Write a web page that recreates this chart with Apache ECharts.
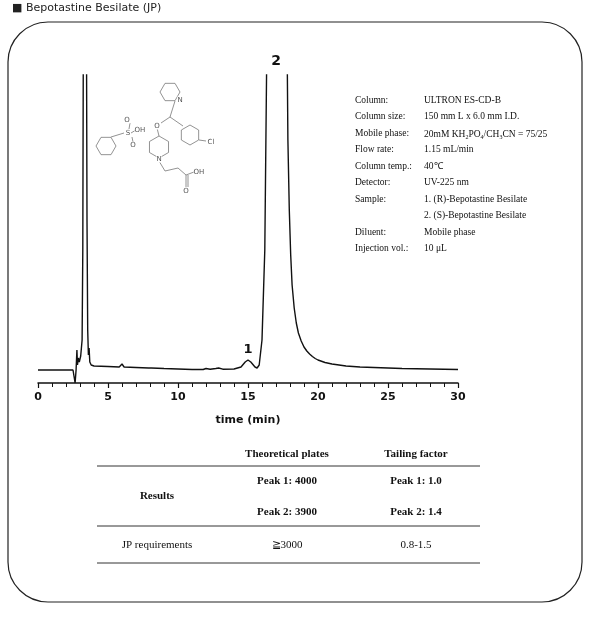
<!DOCTYPE html>
<html><head><meta charset="utf-8">
<script src="https://cdn.jsdelivr.net/npm/echarts@6/dist/echarts.min.js"></script>
<style>html,body{margin:0;padding:0;background:#fff}#c{width:590px;height:618px}</style>
</head><body><div id="c"></div>
<script>
const times = [0,2.5,2.6,2.65,2.7,2.72,2.78,2.82,2.88,2.95,3.05,3.15,3.2,3.25,3.45,3.5,3.55,3.6,3.65,3.7,3.8,4,5,5.8,6,6.15,7,7.9,8,8.1,9,10,11,11.8,12,12.3,12.7,12.9,13.2,14,14.5,14.8,15,15.2,15.5,15.65,15.8,16,16.2,16.4,17.75,17.85,17.95,18.05,18.15,18.3,18.45,18.6,18.8,19.0,19.2,19.4,19.6,19.8,20,20.5,21,22,23,24,25,26,28,30];
const signal = [0,0,0.5,-13,-13,0,20,5,12,8,14,30,120,400,400,150,40,15,22,8,5,4,3.5,3,6,3,2.5,2,3.5,2,1.5,1,0.5,0.5,1.5,0.8,1.5,2,0.8,1,3,8,10,8,3,2,5,30,120,400,400,230,160,115,85,62,47,37,29,23,19,16,13.5,11.5,10,7.5,6,4,3,2.5,2,1.5,1,0.5];
const xTicks = [0,5,10,15,20,25,30];
const conditionLabels = ['Column:','Column size:','Mobile phase:','Flow rate:','Column temp.:','Detector:','Sample:','','Diluent:','Injection vol.:'];
const conditionValues = ['ULTRON ES-CD-B','150 mm L x 6.0 mm I.D.','20mM KH{s|2}PO{s|4}/CH{s|3}CN = 75/25','1.15 mL/min','40℃','UV-225 nm','1. (R)-Bepotastine Besilate','2. (S)-Bepotastine Besilate','Mobile phase','10 μL'];
const tableHeader = ['Theoretical plates','Tailing factor'];
const plates = ['Peak 1: 4000','Peak 2: 3900'];
const tailing = ['Peak 1: 1.0','Peak 2: 1.4'];
const jpReq = ['JP requirements','≧3000','0.8-1.5'];

const chart = echarts.init(document.getElementById('c'));
const serif = 'Liberation Serif';
const g = [];
g.push({type:'text',left:12,top:3,style:{text:'■ Bepotastine Besilate (JP)',font:'11px DejaVu Sans',fill:'#222'}});
g.push({type:'rect',shape:{x:8,y:22,width:574,height:580,r:40},style:{fill:'none',stroke:'#222',lineWidth:1.2}});
conditionLabels.forEach((t,i)=>{
  const y = 95 + i*16.5;
  g.push({type:'text',x:355,y:y,style:{text:t,font:'9.5px '+serif,fill:'#111'}});
  g.push({type:'text',x:424,y:y,style:{text:conditionValues[i],font:'9.5px '+serif,fill:'#111',rich:{s:{fontSize:6,verticalAlign:'bottom',padding:[6,0,0,0],fontFamily:serif}}}});
});
const bf = 'bold 11px '+serif;
[[97,466,480,466],[97,526,480,526],[97,563,480,563]].forEach(l=>g.push({type:'line',shape:{x1:l[0],y1:l[1],x2:l[2],y2:l[3]},style:{stroke:'#333',lineWidth:1}}));
g.push({type:'text',x:287,y:454,style:{text:tableHeader[0],font:bf,fill:'#111',align:'center',verticalAlign:'middle'}});
g.push({type:'text',x:416,y:454,style:{text:tableHeader[1],font:bf,fill:'#111',align:'center',verticalAlign:'middle'}});
g.push({type:'text',x:157,y:496,style:{text:'Results',font:bf,fill:'#111',align:'center',verticalAlign:'middle'}});
plates.forEach((t,i)=>g.push({type:'text',x:287,y:481+i*31,style:{text:t,font:bf,fill:'#111',align:'center',verticalAlign:'middle'}}));
tailing.forEach((t,i)=>g.push({type:'text',x:416,y:481+i*31,style:{text:tailing[i],font:bf,fill:'#111',align:'center',verticalAlign:'middle'}}));
[157,287,416].forEach((x,i)=>g.push({type:'text',x:x,y:545,style:{text:jpReq[i],font:'11px '+serif,fill:'#111',align:'center',verticalAlign:'middle'}}));
g.push({type:'text',x:276,y:61,style:{text:'2',font:'bold 14px DejaVu Sans',fill:'#111',align:'center',verticalAlign:'middle'}});
const st = {stroke:'#777',lineWidth:0.8,fill:'none'};
function hex(cx,cy,r,rot){const p=[];for(let k=0;k<6;k++){const a=(rot+60*k)*Math.PI/180;p.push([cx+r*Math.cos(a),cy+r*Math.sin(a)]);}return p;}
[[170,92,10,0],[190,135,10,30],[106,146,10,0],[159,147,11,30]].forEach(h=>g.push({type:'polygon',shape:{points:hex(h[0],h[1],h[2],h[3])},style:st}));
const bonds=[[175,101,170,117],[170,117,161,123],[170,117,183,126],[157,128,159,136],[111,137,124,133],[129,129,130,123],[132,137,133,142],[131,133,136,130],[159,161,165,171],[165,171,178,168],[178,168,186,175],[186,175,194,172],[186,175,186,187],[188,175,188,187],[199,140,206,141]];
bonds.forEach(b=>g.push({type:'line',shape:{x1:b[0],y1:b[1],x2:b[2],y2:b[3]},style:st}));
const mtext=[['N',180,100],['O',157,126],['Cl',211,142],['N',159,159],['S',128,133],['O',127,120],['O',133,145],['OH',140,130],['OH',199,172],['O',186,191]];
mtext.forEach(t=>g.push({type:'text',x:t[1],y:t[2],style:{text:t[0],font:'7px DejaVu Sans',fill:'#555',align:'center',verticalAlign:'middle',backgroundColor:'#fff'}}));

chart.setOption({
  animation:false,
  grid:{left:38,right:132,top:75,bottom:235},
  xAxis:{type:'value',min:0,max:30,interval:5,
    axisLine:{onZero:false,lineStyle:{color:'#111',width:1.5}},
    axisTick:{inside:false,length:5,lineStyle:{color:'#111',width:1.2}},
    minorTick:{show:true,splitNumber:5,length:4,lineStyle:{color:'#111',width:1}},
    splitLine:{show:false},
    axisLabel:{fontFamily:'DejaVu Sans',fontWeight:'bold',fontSize:11,color:'#111',margin:9,
      formatter:v=>xTicks.includes(v)?String(v):''},
    name:'time (min)',nameLocation:'middle',nameGap:32,
    nameTextStyle:{fontFamily:'DejaVu Sans',fontWeight:'bold',fontSize:11,color:'#111'}},
  yAxis:{type:'value',min:-13,max:295,show:false,splitLine:{show:false}},
  series:[{type:'line',data:times.map((t,i)=>[t,signal[i]]),showSymbol:false,clip:true,
    lineStyle:{color:'#111',width:1.4},
    markPoint:{symbol:'circle',symbolSize:0,data:[{coord:[15,10],label:{show:true,formatter:'1',position:'top',distance:4,fontFamily:'DejaVu Sans',fontWeight:'bold',fontSize:13,color:'#111'}}]}}],
  graphic:g
});
</script></body></html>
